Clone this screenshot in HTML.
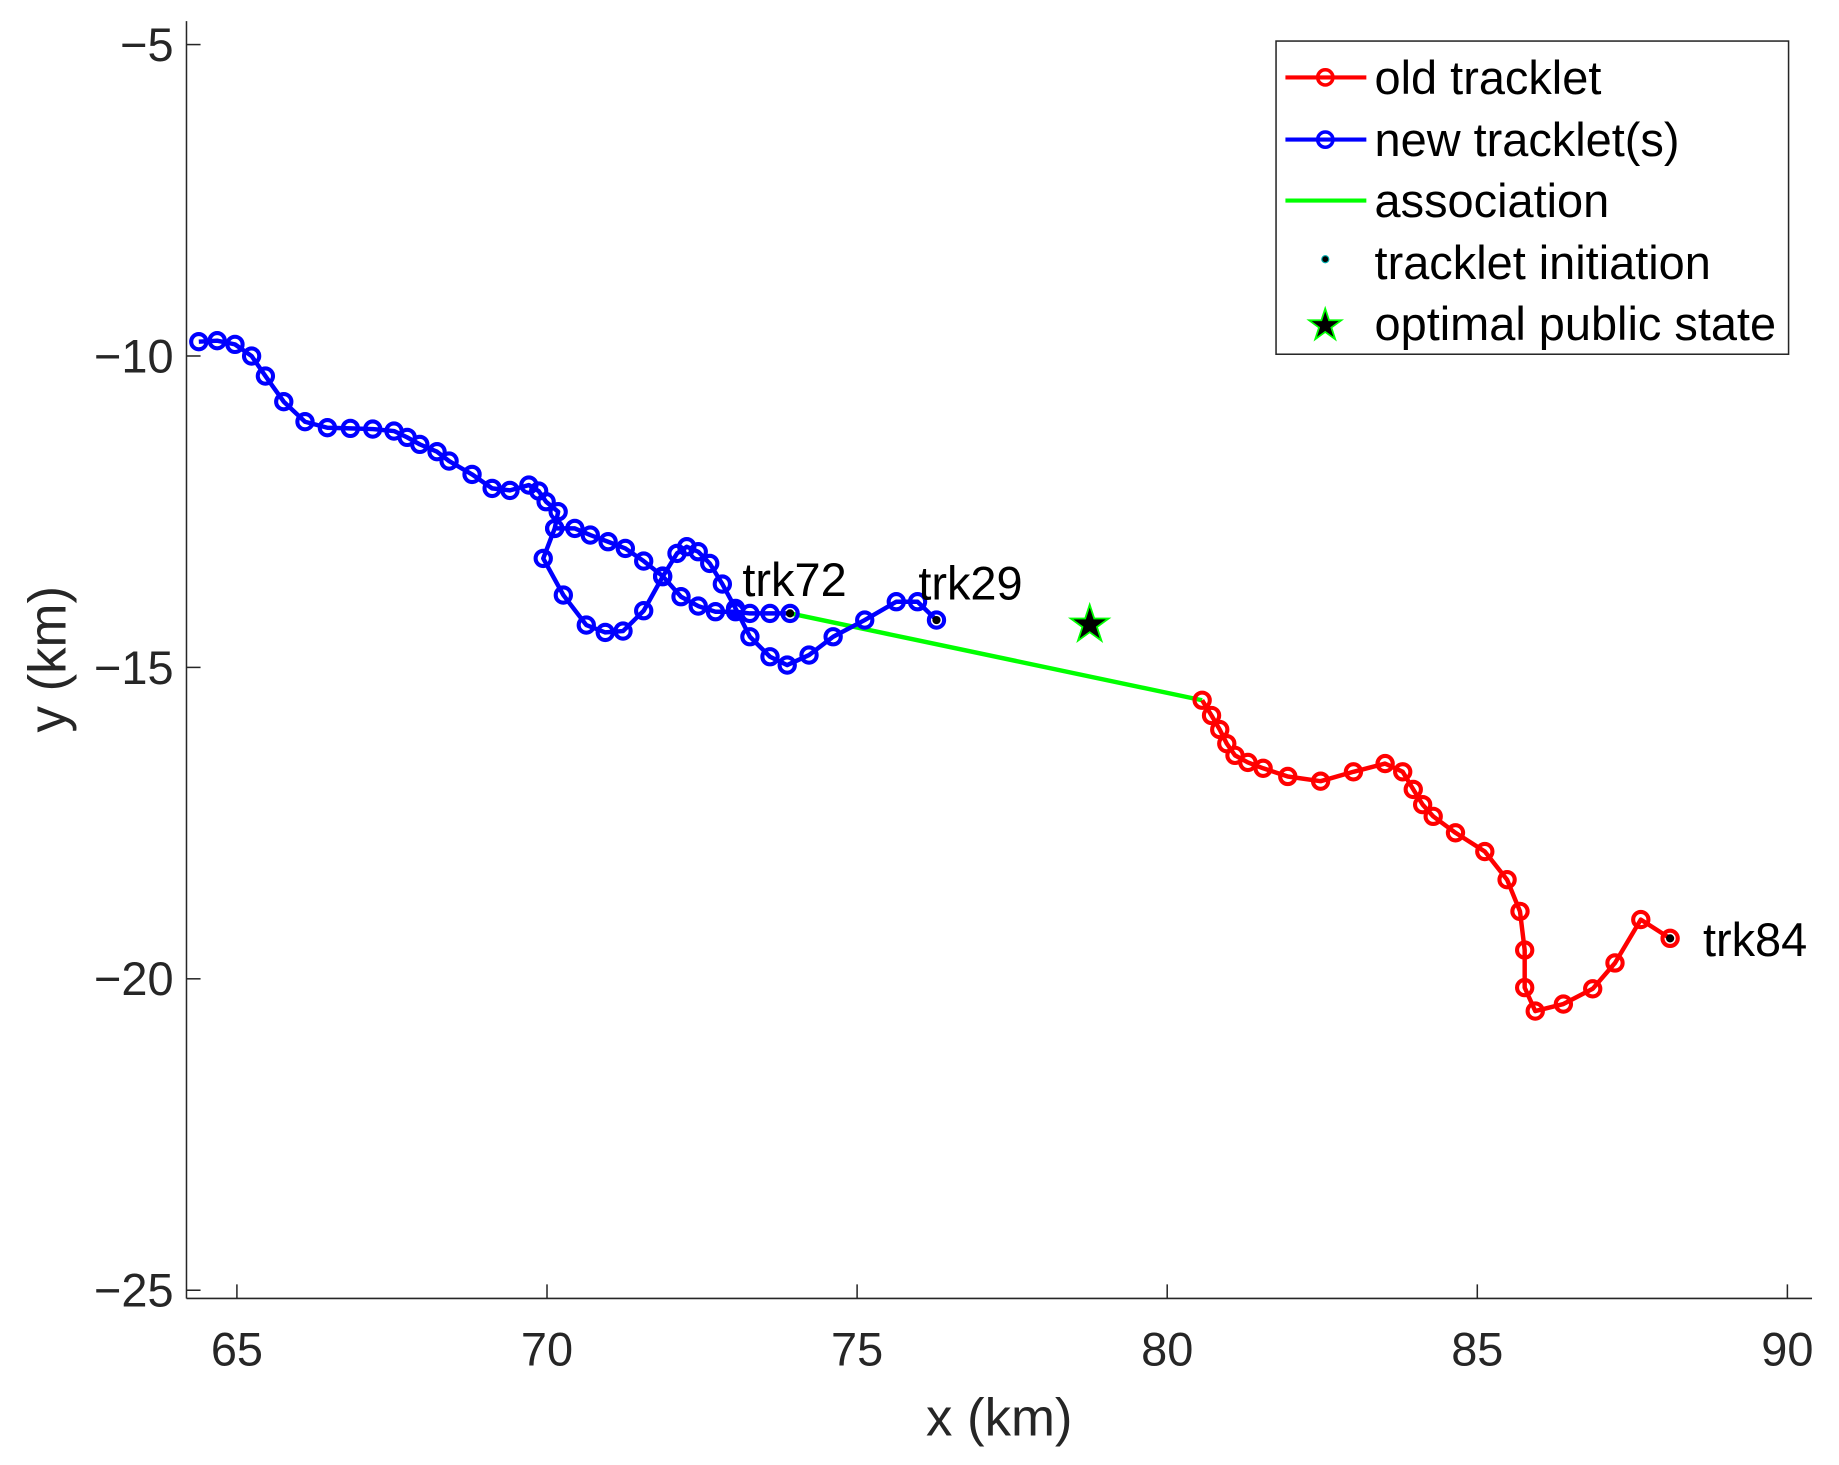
<!DOCTYPE html>
<html><head><meta charset="utf-8"><style>
html,body{margin:0;padding:0;background:#fff;}
svg{display:block;}
text{font-family:"Liberation Sans",sans-serif;}
</style></head><body>
<svg id="s" width="1839" height="1465" viewBox="0 0 1568 1249" preserveAspectRatio="none">
<rect width="1568" height="1249" fill="#fff"/>
<g stroke="#262626" stroke-width="1.3" fill="none">
<line x1="159" y1="18" x2="159" y2="1107"/>
<line x1="159" y1="1107" x2="1545" y2="1107"/>
</g>
<g id="ticks" stroke="#262626" stroke-width="1.3"></g>
<g font-size="40" fill="#262626" id="labels"></g>
<text x="852" y="1224" font-size="45" fill="#262626" text-anchor="middle">x (km)</text>
<text transform="translate(56,562) rotate(-90)" font-size="45" fill="#262626" text-anchor="middle">y (km)</text>
<line x1="674" y1="523" x2="1025" y2="597" stroke="#00ff00" stroke-width="3.8"/>
<g id="data"></g>
<text x="929" y="546" font-size="42" text-anchor="middle" fill="#000" stroke="#00ff00" stroke-width="1.5">★</text>
<text x="633" y="508" font-size="40" fill="#000">trk72</text>
<text x="783" y="511" font-size="40" fill="#000">trk29</text>
<text x="1452" y="815" font-size="40" fill="#000">trk84</text>
<rect x="1088" y="35" width="437" height="267" fill="#fff" stroke="#262626" stroke-width="1.3"/>
<g font-size="40" fill="#000">
<line x1="1096" y1="66" x2="1165" y2="66" stroke="#ff0000" stroke-width="3.5"/>
<circle cx="1130" cy="66" r="6.5" fill="none" stroke="#ff0000" stroke-width="3"/>
<text x="1172" y="80">old tracklet</text>
<line x1="1096" y1="119" x2="1165" y2="119" stroke="#0000ff" stroke-width="3.5"/>
<circle cx="1130" cy="119" r="6.5" fill="none" stroke="#0000ff" stroke-width="3"/>
<text x="1172" y="133">new tracklet(s)</text>
<line x1="1096" y1="171" x2="1165" y2="171" stroke="#00ff00" stroke-width="3.5"/>
<text x="1172" y="185">association</text>
<circle cx="1130" cy="221" r="3" fill="#000" stroke="#0aa" stroke-width="1"/>
<text x="1172" y="238">tracklet initiation</text>
<text x="1130" y="289" font-size="36" text-anchor="middle" fill="#000" stroke="#00ff00" stroke-width="1.5">★</text>
<text x="1172" y="290">optimal public state</text>
</g>
</svg>
<script>
var NS="http://www.w3.org/2000/svg";
function el(p,t,a,txt){var e=document.createElementNS(NS,t);for(var k in a)e.setAttribute(k,a[k]);if(txt)e.textContent=txt;document.getElementById(p).appendChild(e);return e;}
for(var v=65;v<=90;v+=5){var x=202+(v-65)*52.88;el("ticks","line",{x1:x,y1:1107,x2:x,y2:1095});el("labels","text",{x:x,y:1164,"text-anchor":"middle"},String(v));}
for(var v=-5;v>=-25;v-=5){var y=38+(-5-v)*53.1;el("ticks","line",{x1:159,y1:y,x2:171,y2:y});el("labels","text",{x:148,y:y+14,"text-anchor":"end"},"\u2212"+String(-v));}
function cv(p){return p.map(function(q){return [(150+q[0]/1.742)/1.1728,(300+q[1]/3)/1.1728];});}
var A=cv([[85,125],[117,122],[148,133],[177,168],[201,228],[233,305],[270,365],[309,383],[349,385],[388,387],[425,393],[448,412],[470,433],[500,455],[521,483],[561,523],[596,565],[627,571],[660,555],[677,573],[690,605],[711,635],[705,685],[740,685],[767,705],[798,725],[828,745],[860,783],[893,828],[925,890],[955,918],[985,935],[1020,935],[1045,940],[1080,940],[1115,940]]);
var B=cv([[705,685],[685,775],[720,885],[760,975],[793,997],[824,993],[860,932],[893,830],[918,760],[935,740],[955,755],[975,790],[997,852],[1020,925],[1045,1010],[1080,1070],[1110,1095],[1148,1065],[1190,1010],[1245,960],[1300,905],[1337,905],[1370,960]]);
var R=[[1025,597],[1033,610],[1040,622],[1046,634],[1053,644],[1064,650],[1077,655],[1098,662],[1126,666],[1154,658],[1181,651],[1196,658],[1205,673],[1213,686],[1222,696],[1241,710],[1266,726],[1285,750],[1296,777],[1300,810],[1300,842],[1309,862],[1333,856],[1358,843],[1377,821],[1399,784],[1424,800]];
function draw(pts,c){el("data","polyline",{points:pts.map(function(p){return p.join(",")}).join(" "),fill:"none",stroke:c,"stroke-width":3.8,"stroke-linejoin":"round"});
pts.forEach(function(p){el("data","circle",{cx:p[0],cy:p[1],r:6.5,fill:"none",stroke:c,"stroke-width":3.5});});}
draw(A,"#0000ff");draw(B,"#0000ff");draw(R,"#ff0000");
[A[A.length-1],B[B.length-1],R[R.length-1]].forEach(function(p){el("data","circle",{cx:p[0],cy:p[1],r:3.5,fill:"#000"});});
</script>
</body></html>
